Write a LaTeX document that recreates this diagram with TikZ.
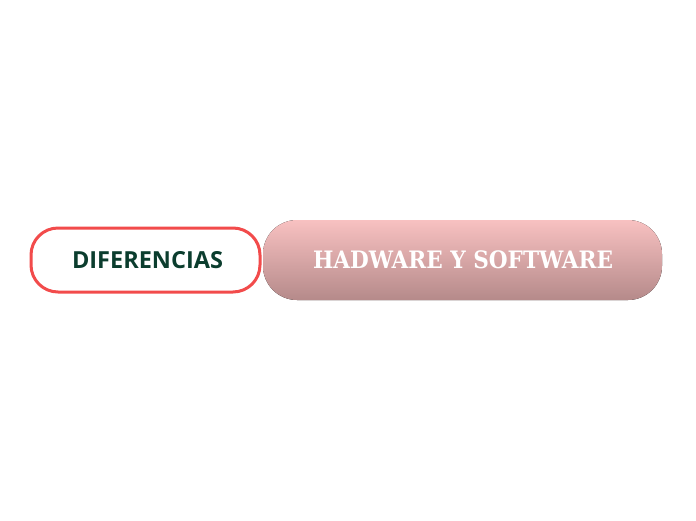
\documentclass[tikz,border=0pt]{standalone}
\usepackage{fontspec}
\newfontfamily\boxsans{Open Sans}
\newfontfamily\boxserif{DejaVu Serif Condensed}
\definecolor{redline}{HTML}{F24B4B}
\definecolor{darkgreen}{HTML}{0B3D2E}
\definecolor{pinktop}{HTML}{F8C1C1}
\definecolor{pinkbot}{HTML}{B58A8A}
\begin{document}
\begin{tikzpicture}[x=1pt,y=-1pt,
  leftbox/.style={draw=redline,line width=3pt,fill=white,rounded corners=27pt},
  rightbox/.style={top color=pinktop,bottom color=pinkbot,draw=none,rounded corners=34pt},
  lefttext/.style={font=\boxsans\bfseries\fontsize{23.5}{28}\selectfont,text=darkgreen},
  righttext/.style={font=\boxserif\bfseries\fontsize{24}{28}\selectfont,text=white}]
\useasboundingbox (0,0) rectangle (696,520);
\fill[rightbox] (263,220) rectangle (662,300);
\draw[leftbox] (31,228) rectangle (260,292);
\node[lefttext] (dif) at (147.5,260) {DIFERENCIAS};
\node[righttext] (hs) at (463,260) {HADWARE Y SOFTWARE};
\end{tikzpicture}
\end{document}
